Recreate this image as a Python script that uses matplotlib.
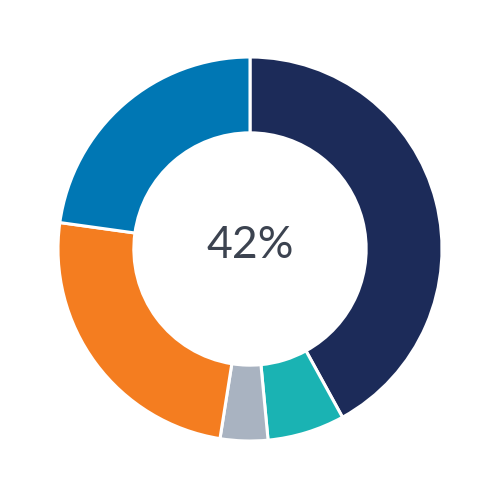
import matplotlib
matplotlib.use("Agg")
import matplotlib.pyplot as plt

# segment shares, clockwise from 12 o'clock
labels = ["Navy", "Teal", "Gray", "Orange", "Blue"]
values = [42, 6.5, 4, 24.7, 22.8]
colors = ["#1c2b59", "#1ab3b3", "#a9b3c1", "#f47d20", "#0077b4"]
center_text = "42%"

fig = plt.figure(figsize=(5, 5), dpi=100)
ax = fig.add_axes([0, 0, 1, 1])

ax.pie(values, colors=colors, startangle=90, counterclock=False,
       radius=1.0, wedgeprops=dict(width=0.395, edgecolor="white", linewidth=2.2))

# 192 px radius, centre at (250, 249) from the top
r_px = 192.0
ax.set_xlim(-250 / r_px, 250 / r_px)
ax.set_ylim(-(500 - 249) / r_px, 249 / r_px)
ax.set_aspect("equal")
ax.axis("off")

ax.text(0, 0.02, center_text, ha="center", va="center", fontsize=32,
        color="#3c4350", family="Lato")

fig.savefig("out.png", dpi=100, facecolor="white")
